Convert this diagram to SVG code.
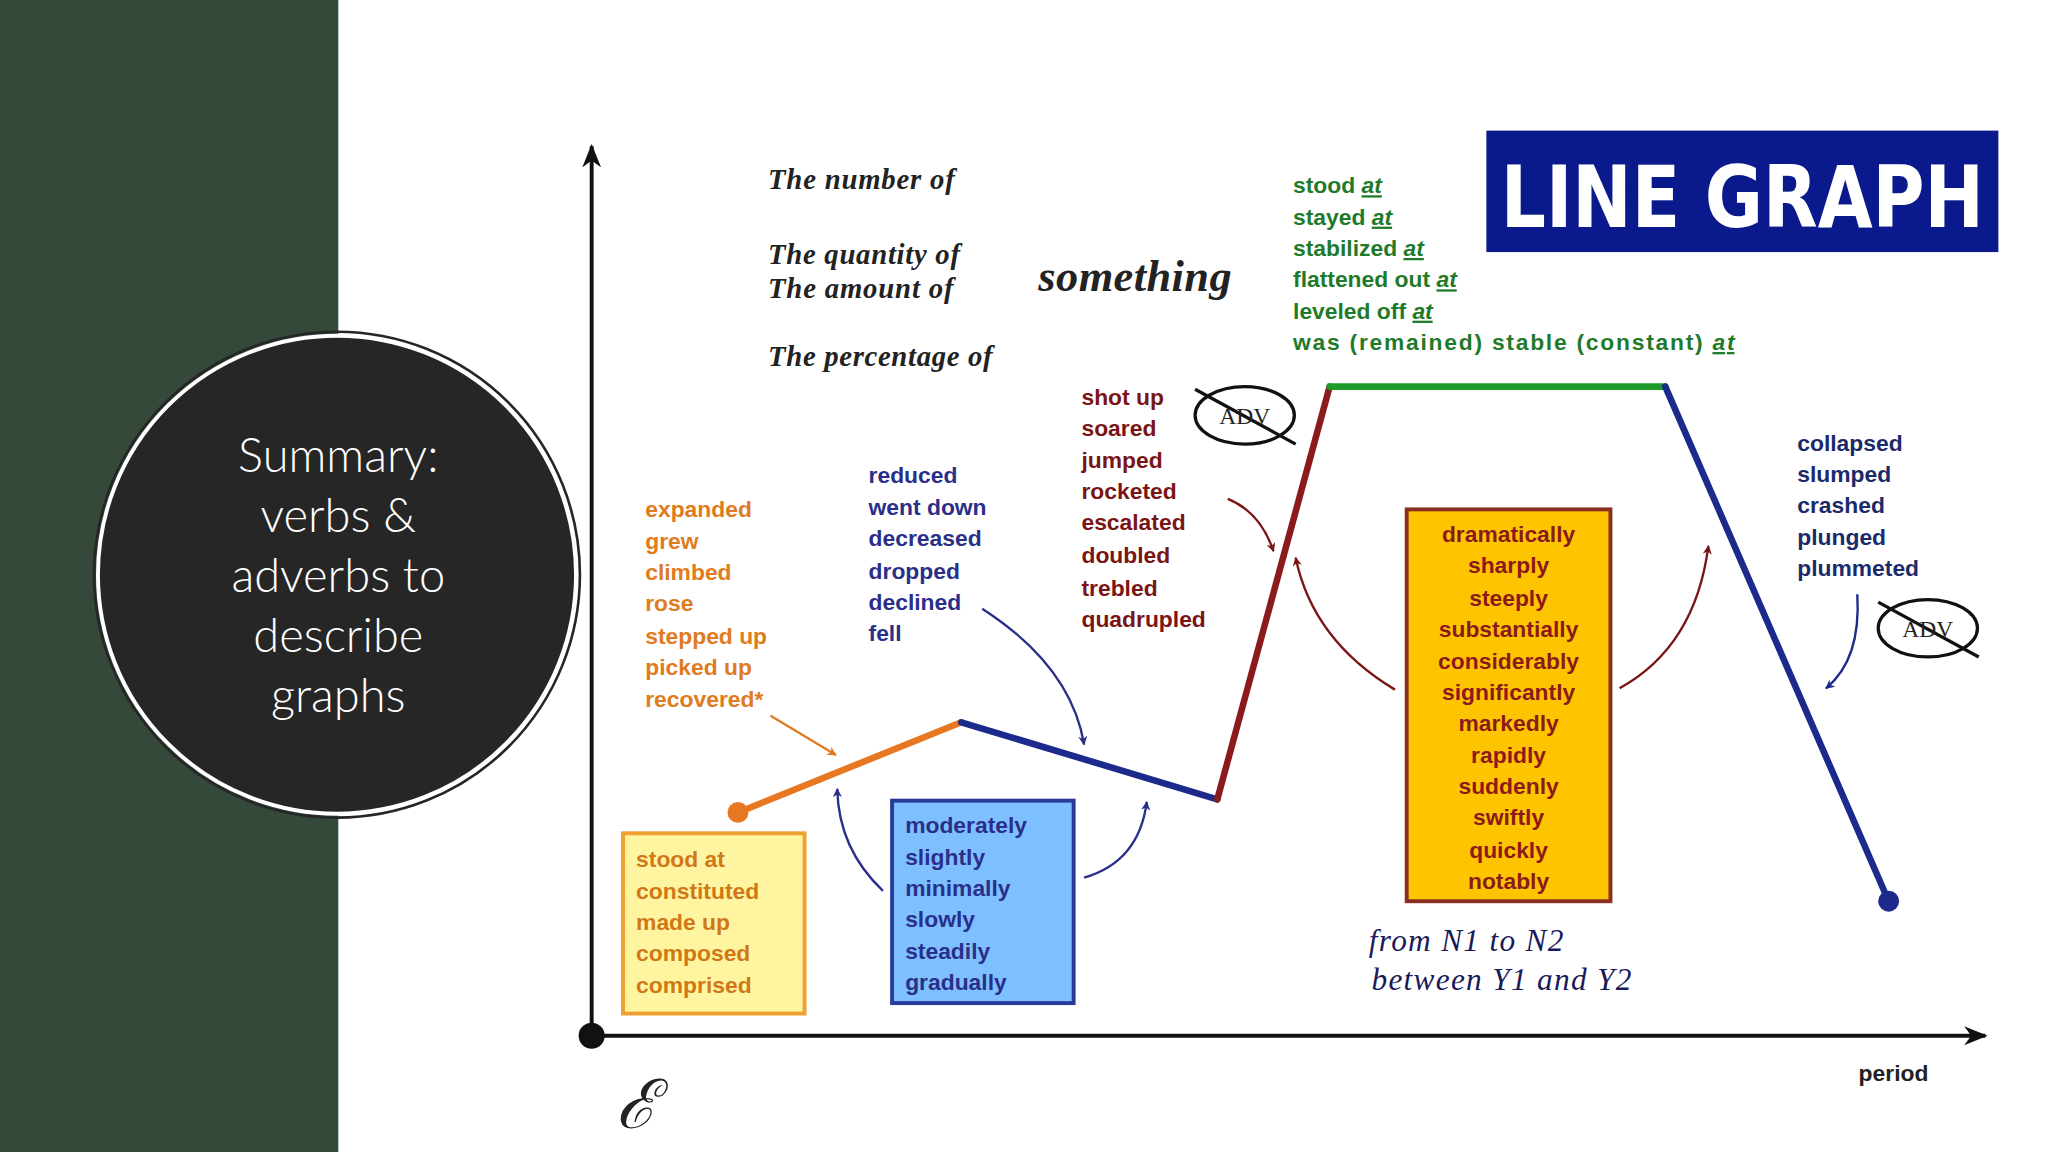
<svg xmlns="http://www.w3.org/2000/svg" width="2048" height="1152" viewBox="0 0 2048 1152">
<defs>
<style>
.w{font-family:"Liberation Sans",Arial,sans-serif;font-weight:bold;font-size:17.5px}
.s{font-family:"Liberation Serif","Times New Roman",serif;font-style:italic}
.at{font-style:italic;text-decoration:underline}
.ln{fill:none;stroke-width:5;stroke-linecap:round}
.ar{fill:none;stroke-width:1.8}
</style>
<marker id="ah" viewBox="0 0 10 10" refX="9" refY="5" markerWidth="7" markerHeight="7" orient="auto-start-reverse" markerUnits="userSpaceOnUse"><path d="M0,0 L10,5 L0,10 L3,5 z" fill="context-stroke"/></marker>
<marker id="ax" viewBox="0 0 10 10" refX="9" refY="5" markerWidth="18" markerHeight="18" orient="auto" markerUnits="userSpaceOnUse"><path d="M0,1 L10,5 L0,9 L3,5 z" fill="#111"/></marker>
</defs>
<rect width="2048" height="1152" fill="#ffffff"/>
<g transform="scale(1.30612)">
<rect x="0" y="0" width="259" height="882" fill="#34493a"/>
<g id="title">
<circle cx="258" cy="440" r="186" fill="none" stroke="#262626" stroke-width="2"/>
<circle cx="258" cy="440" r="183" fill="#262626" stroke="#ffffff" stroke-width="3"/>
<g font-family="Lato,'Open Sans',sans-serif" font-weight="300" font-size="36" fill="#ffffff" text-anchor="middle">
<text x="259" y="361">Summary:</text><text x="259" y="407">verbs &amp;</text><text x="259" y="453">adverbs to</text><text x="259" y="499">describe</text><text x="259" y="545">graphs</text></g>
</g>
<g id="axes" stroke="#111" stroke-width="3">
<line x1="453" y1="793" x2="453" y2="112" marker-end="url(#ax)"/>
<line x1="453" y1="793" x2="1520" y2="793" marker-end="url(#ax)"/>
<circle cx="453" cy="793" r="10" fill="#111" stroke="none"/>
</g>
<g id="lines">
<line class="ln" x1="565" y1="622" x2="736" y2="553" stroke="#e87722"/>
<circle cx="565" cy="622" r="8" fill="#e87722"/>
<line class="ln" x1="736" y1="553" x2="932" y2="612" stroke="#1c2a8c"/>
<line class="ln" x1="932" y1="612" x2="1018" y2="296" stroke="#8b1a1a"/>
<line class="ln" x1="1018" y1="296" x2="1275" y2="296" stroke="#1e9a2a"/>
<line class="ln" x1="1275" y1="296" x2="1446" y2="690" stroke="#1c2a8c"/>
<circle cx="1446" cy="690" r="8" fill="#1c2a8c"/>
</g>
<g id="connectors">
<path class="ar" d="M590,548 L640,578" stroke="#e07b20" marker-end="url(#ah)"/>
<path class="ar" d="M752,466 Q820,510 830,570" stroke="#2a2f8a" marker-end="url(#ah)"/>
<path class="ar" d="M940,382 Q965,392 975,422" stroke="#7a1515" marker-end="url(#ah)"/>
<path class="ar" d="M676,682 Q642,650 641,604" stroke="#2a2f8a" marker-end="url(#ah)"/>
<path class="ar" d="M830,672 Q872,660 878,614" stroke="#2a2f8a" marker-end="url(#ah)"/>
<path class="ar" d="M1068,528 Q1005,490 992,427" stroke="#7a1515" marker-end="url(#ah)"/>
<path class="ar" d="M1240,527 Q1298,495 1308,418" stroke="#7a1515" marker-end="url(#ah)"/>
<path class="ar" d="M1422,455 Q1425,505 1398,527" stroke="#1c2a8c" marker-end="url(#ah)"/>
</g>
<g id="subject" class="s" fill="#222" font-size="22" font-weight="bold">
<text x="588" y="145" textLength="143">The number of</text><text x="588" y="202" textLength="147">The quantity of</text><text x="588" y="228" textLength="142">The amount of</text><text x="588" y="280" textLength="172">The percentage of</text>
<text x="795" y="223" font-size="34" textLength="148">something</text>
</g>
<g id="banner"><rect x="1138" y="100" width="392" height="93" fill="#0a1a8c"/>
<text x="1334" y="174" text-anchor="middle" font-family="'DejaVu Sans Condensed','DejaVu Sans',sans-serif" font-weight="bold" font-size="66" fill="#ffffff" textLength="370" lengthAdjust="spacingAndGlyphs">LINE GRAPH</text></g>
<g id="stable" class="w" fill="#1f7a2a">
<text x="990" y="148">stood <tspan class="at">at</tspan></text><text x="990" y="172">stayed <tspan class="at">at</tspan></text><text x="990" y="196">stabilized <tspan class="at">at</tspan></text><text x="990" y="220">flattened out <tspan class="at">at</tspan></text><text x="990" y="244">leveled off <tspan class="at">at</tspan></text><text x="990" y="268" textLength="338">was (remained) stable (constant) <tspan class="at">at</tspan></text>
</g>
<g id="rise" class="w" fill="#e07b20">
<text x="494" y="396">expanded</text><text x="494" y="420">grew</text><text x="494" y="444">climbed</text><text x="494" y="468">rose</text><text x="494" y="493">stepped up</text><text x="494" y="517">picked up</text><text x="494" y="541">recovered*</text>
</g>
<g id="fall" class="w" fill="#2a2f8a">
<text x="665" y="370">reduced</text><text x="665" y="394">went down</text><text x="665" y="418">decreased</text><text x="665" y="443">dropped</text><text x="665" y="467">declined</text><text x="665" y="491">fell</text>
</g>
<g id="sharprise" class="w" fill="#7a1515">
<text x="828" y="310">shot up</text><text x="828" y="334">soared</text><text x="828" y="358">jumped</text><text x="828" y="382">rocketed</text><text x="828" y="406">escalated</text><text x="828" y="431">doubled</text><text x="828" y="456">trebled</text><text x="828" y="480">quadrupled</text>
</g>
<g id="collapse" class="w" fill="#1a2a6a">
<text x="1376" y="345">collapsed</text><text x="1376" y="369">slumped</text><text x="1376" y="393">crashed</text><text x="1376" y="417">plunged</text><text x="1376" y="441">plummeted</text>
</g>
<g id="adv1"><ellipse cx="953" cy="318" rx="38" ry="22" fill="none" stroke="#111" stroke-width="2.5"/><line x1="915" y1="298" x2="992" y2="340" stroke="#111" stroke-width="2.5"/><text x="953" y="325" text-anchor="middle" font-family="'Liberation Serif',serif" font-size="18" fill="#222">ADV</text></g>
<g id="adv2"><ellipse cx="1476" cy="481" rx="38" ry="22" fill="none" stroke="#111" stroke-width="2.5"/><line x1="1438" y1="461" x2="1515" y2="503" stroke="#111" stroke-width="2.5"/><text x="1476" y="488" text-anchor="middle" font-family="'Liberation Serif',serif" font-size="18" fill="#222">ADV</text></g>
<g id="box1"><rect x="477" y="638" width="139" height="138" fill="#fff5a0" stroke="#f0a030" stroke-width="3"/>
<g class="w" fill="#d07818"><text x="487" y="664">stood at</text><text x="487" y="688">constituted</text><text x="487" y="712">made up</text><text x="487" y="736">composed</text><text x="487" y="760">comprised</text></g></g>
<g id="box2"><rect x="683" y="613" width="139" height="155" fill="#7ec0ff" stroke="#2a3a9a" stroke-width="3"/>
<g class="w" fill="#2a2f8a"><text x="693" y="638">moderately</text><text x="693" y="662">slightly</text><text x="693" y="686">minimally</text><text x="693" y="710">slowly</text><text x="693" y="734">steadily</text><text x="693" y="758">gradually</text></g></g>
<g id="box3"><rect x="1077" y="390" width="156" height="300" fill="#ffc400" stroke="#8b3020" stroke-width="3"/>
<g class="w" fill="#8b1a1a" text-anchor="middle"><text x="1155" y="415">dramatically</text><text x="1155" y="439">sharply</text><text x="1155" y="464">steeply</text><text x="1155" y="488">substantially</text><text x="1155" y="512">considerably</text><text x="1155" y="536">significantly</text><text x="1155" y="560">markedly</text><text x="1155" y="584">rapidly</text><text x="1155" y="608">suddenly</text><text x="1155" y="632">swiftly</text><text x="1155" y="657">quickly</text><text x="1155" y="681">notably</text></g></g>
<g id="range" class="s" fill="#1a1a5a" font-size="24"><text x="1048" y="728" textLength="149">from N1 to N2</text><text x="1050" y="758" textLength="199">between Y1 and Y2</text></g>
<text x="1423" y="828" class="w" fill="#222" font-size="19">period</text>
<text x="472" y="864" class="s" font-size="52" fill="#222">ℰ</text>
</g>
</svg>
